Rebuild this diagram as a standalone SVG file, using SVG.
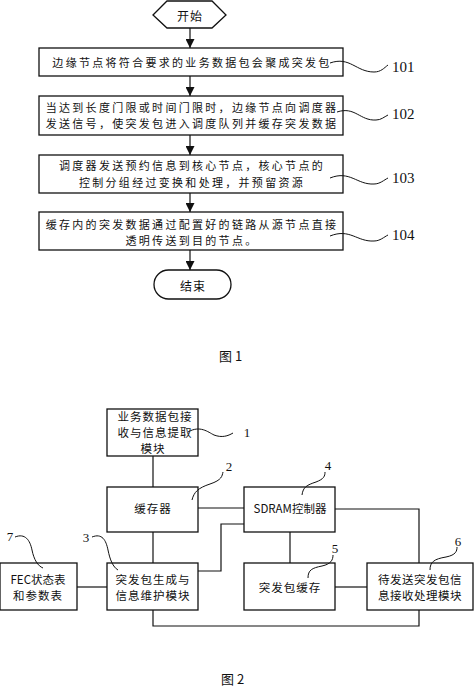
<svg xmlns="http://www.w3.org/2000/svg" width="474" height="689" viewBox="0 0 474 689">
<style>
.b{fill:#fff;stroke:#111;stroke-width:1.3}
.l{fill:none;stroke:#111;stroke-width:1.2}
.w{fill:none;stroke:#111;stroke-width:1}
.t{font-family:"Noto Sans CJK SC","Liberation Serif",serif;font-size:11px;fill:#111;text-anchor:middle;dominant-baseline:central;letter-spacing:2.3px}
.s{font-family:"Noto Sans CJK SC","Liberation Serif",serif;font-size:11.5px;fill:#111;text-anchor:middle;dominant-baseline:central;letter-spacing:1px}
.n{font-family:"Liberation Serif",serif;font-size:15px;fill:#111;dominant-baseline:central}
.m{font-family:"Liberation Serif",serif;font-size:13px;fill:#111;text-anchor:middle;dominant-baseline:central}
.c{font-family:"Noto Sans CJK SC","Liberation Serif",serif;font-size:13px;fill:#111;dominant-baseline:central}
</style>
<defs>
<marker id="a" viewBox="0 0 10 10" refX="10" refY="5" markerWidth="9" markerHeight="9" markerUnits="userSpaceOnUse" orient="auto">
<path d="M0,0 L10,5 L0,10 z" fill="#111"/>
</marker>
</defs>
<g id="connectors">
<line class="l" x1="190" y1="28" x2="190" y2="48" marker-end="url(#a)"/>
<line class="l" x1="190" y1="76" x2="190" y2="96" marker-end="url(#a)"/>
<line class="l" x1="190" y1="135" x2="190" y2="155" marker-end="url(#a)"/>
<line class="l" x1="190" y1="193" x2="190" y2="212" marker-end="url(#a)"/>
<line class="l" x1="190" y1="250" x2="190" y2="270" marker-end="url(#a)"/>
<line class="l" x1="153" y1="456" x2="153" y2="487"/>
<line class="l" x1="198" y1="508" x2="244" y2="508"/>
<polyline class="l" points="335,509 419,509 419,563"/>
<line class="l" x1="153" y1="532" x2="153" y2="563"/>
<polyline class="l" points="198,571 221,571 221,524 244,524"/>
<line class="l" x1="77" y1="587" x2="107" y2="587"/>
<line class="l" x1="290" y1="532" x2="290" y2="563"/>
<line class="l" x1="335" y1="587" x2="367" y2="587"/>
<polyline class="l" points="153,610 153,626 419,626 419,610"/>
</g>
<g id="start">
<polygon class="b" points="153,15 167,1 212,1 226,15 212,28 167,28"/>
<text class="c" x="190" y="15" text-anchor="middle" style="font-size:12px;letter-spacing:1px">开始</text>
</g>
<g id="s101">
<rect class="b" x="39" y="48" width="304" height="28"/>
<text class="t" x="192" y="62">边缘节点将符合要求的业务数据包会聚成突发包</text>
<path class="w" d="M330,63 C350,56 356,72 374,72 C381,72 384,68 388,65"/>
<text class="n" x="392" y="67">101</text>
</g>
<g id="s102">
<rect class="b" x="39" y="96" width="304" height="39"/>
<text class="t" x="192" y="107">当达到长度门限或时间门限时，边缘节点向调度器</text>
<text class="t" x="192" y="123">发送信号，使突发包进入调度队列并缓存突发数据</text>
<path class="w" d="M337,112 C355,106 360,121 376,120 C381,120 384,117 388,115"/>
<text class="n" x="392" y="114">102</text>
</g>
<g id="s103">
<rect class="b" x="39" y="155" width="304" height="38"/>
<text class="t" x="192" y="165">调度器发送预约信息到核心节点，核心节点的</text>
<text class="t" x="192" y="182">控制分组经过变换和处理，并预留资源</text>
<path class="w" d="M330,178 C350,170 357,185 374,184 C380,184 384,180 388,178"/>
<text class="n" x="392" y="178">103</text>
</g>
<g id="s104">
<rect class="b" x="39" y="212" width="304" height="38"/>
<text class="t" x="192" y="224">缓存内的突发数据通过配置好的链路从源节点直接</text>
<text class="t" x="192" y="240">透明传送到目的节点。</text>
<path class="w" d="M330,236 C350,228 357,242 374,241 C380,241 384,237 388,235"/>
<text class="n" x="392" y="235">104</text>
</g>
<g id="end">
<rect class="b" x="154" y="270" width="77" height="29" rx="14.5"/>
<text class="c" x="193" y="285" text-anchor="middle" style="font-size:12px;letter-spacing:1px">结束</text>
</g>
<text class="c" x="219" y="355">图 1</text>
<g id="m1">
<rect class="b" x="107" y="409" width="91" height="47"/>
<text class="s" x="155" y="416">业务数据包接</text>
<text class="s" x="155" y="432">收与信息提取</text>
<text class="s" x="153" y="448">模块</text>
<path class="w" d="M188,432 C200,425 208,432 214,435 C222,438 228,436 233,433"/>
<text class="m" x="247" y="432">1</text>
</g>
<g id="m2">
<rect class="b" x="107" y="487" width="91" height="45"/>
<text class="s" x="153" y="508">缓存器</text>
<path class="w" d="M192,500 C194,492 198,488 210,484 C222,480 222,476 223,472"/>
<text class="m" x="229" y="466">2</text>
</g>
<g id="m4">
<rect class="b" x="244" y="487" width="91" height="45"/>
<text class="s" x="290" y="508" style="letter-spacing:0">SDRAM控制器</text>
<path class="w" d="M302,495 C303,487 307,485 316,482 C324,479 325,476 325,472"/>
<text class="m" x="328" y="465">4</text>
</g>
<g id="m3">
<rect class="b" x="107" y="563" width="91" height="47"/>
<text class="s" x="153" y="579">突发包生成与</text>
<text class="s" x="153" y="595">信息维护模块</text>
<path class="w" d="M92,537 C102,533 106,540 108,550 C110,560 113,567 118,570"/>
<text class="m" x="86" y="537">3</text>
</g>
<g id="m7">
<rect class="b" x="0" y="563" width="77" height="47"/>
<text class="s" x="38" y="579" style="letter-spacing:0">FEC状态表</text>
<text class="s" x="38" y="595">和参数表</text>
<path class="w" d="M15,537 C25,533 30,540 32,550 C34,560 38,566 43,568"/>
<text class="m" x="10" y="536">7</text>
</g>
<g id="m5">
<rect class="b" x="244" y="563" width="91" height="47"/>
<text class="s" x="290" y="587">突发包缓存</text>
<path class="w" d="M308,578 C308,570 312,568 322,566 C331,564 333,560 333,555"/>
<text class="m" x="335" y="548">5</text>
</g>
<g id="m6">
<rect class="b" x="367" y="563" width="106" height="47"/>
<text class="s" x="420" y="579" style="letter-spacing:0.5px">待发送突发包信</text>
<text class="s" x="420" y="595" style="letter-spacing:0.5px">息接收处理模块</text>
<path class="w" d="M430,570 C430,562 434,559 446,557 C456,555 457,551 457,547"/>
<text class="m" x="458" y="541">6</text>
</g>
<text class="c" x="221" y="678">图 2</text>
</svg>
